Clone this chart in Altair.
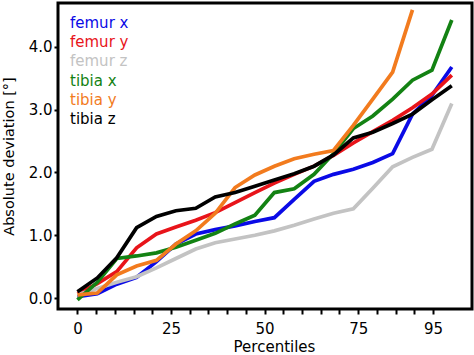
import altair as alt
import pandas as pd

percentiles = [0, 5.3, 10.5, 15.8, 21.1, 26.3, 31.6, 36.8, 42.1, 47.4,
               52.6, 57.9, 63.2, 68.4, 73.7, 78.9, 84.2, 89.5, 94.7, 100]

femur_x = [0.02, 0.07, 0.22, 0.33, 0.58, 0.86, 1.02, 1.09, 1.15, 1.22,
           1.28, 1.57, 1.86, 1.97, 2.05, 2.16, 2.30, 2.93, 3.23, 3.68]
femur_y = [0.07, 0.23, 0.42, 0.80, 1.02, 1.13, 1.24, 1.36, 1.52, 1.68,
           1.83, 1.97, 2.10, 2.27, 2.47, 2.65, 2.83, 3.03, 3.25, 3.55]
femur_z = [0.05, 0.15, 0.25, 0.34, 0.48, 0.63, 0.78, 0.88, 0.94, 1.00,
           1.07, 1.16, 1.26, 1.35, 1.42, 1.75, 2.09, 2.24, 2.37, 3.10]
tibia_x = [-0.03, 0.25, 0.63, 0.67, 0.72, 0.81, 0.92, 1.03, 1.18, 1.32,
           1.68, 1.74, 1.97, 2.30, 2.70, 2.90, 3.17, 3.47, 3.63, 4.43]
tibia_y = [0.05, 0.08, 0.37, 0.51, 0.60, 0.86, 1.07, 1.35, 1.76, 1.96,
           2.10, 2.22, 2.29, 2.35, 2.75, 3.17, 3.60, 4.59]
tibia_z = [0.10, 0.32, 0.64, 1.12, 1.30, 1.39, 1.43, 1.61, 1.68, 1.78,
           1.88, 1.98, 2.10, 2.28, 2.55, 2.64, 2.78, 2.93, 3.16, 3.38]

series_names = ["femur x", "femur y", "femur z", "tibia x", "tibia y", "tibia z"]
series_values = [femur_x, femur_y, femur_z, tibia_x, tibia_y, tibia_z]
series_colors = ["#0a0ae6", "#e8141a", "#c3c3c3", "#138213", "#f27b1e", "#000000"]

tick_values = list(range(0, 100, 5))
tick_labels = [0, 25, 50, 75, 95]
y_ticks = [0, 1, 2, 3, 4]

rows = []
for order, (name, vals) in enumerate(zip(series_names, series_values)):
    for p, v in zip(percentiles, vals):
        rows.append({"series": name, "pct": p, "val": v, "order": order})
df = pd.DataFrame(rows)
legend_df = pd.DataFrame({"series": series_names})

FONT = "DejaVu Sans"
color_scale = alt.Scale(domain=series_names, range=series_colors)

lines = alt.Chart(df).mark_line(strokeWidth=3.7, clip=True).encode(
    x=alt.X("pct:Q",
            scale=alt.Scale(domain=[-5.2, 105.4], nice=False, zero=False),
            axis=alt.Axis(values=tick_values, title="Percentiles",
                          labelExpr="indexof([" + ",".join(str(t) for t in tick_labels) + "], datum.value) >= 0 ? datum.label : ''",
                          labelFont=FONT, labelFontSize=15, labelColor="#000",
                          titleFont=FONT, titleFontSize=15, titleFontWeight="normal",
                          titleColor="#000", titleX=216, titleY=30,
                          domain=False, grid=False, tickColor="#000",
                          tickWidth=2, tickSize=5, labelPadding=7)),
    y=alt.Y("val:Q",
            scale=alt.Scale(domain=[-0.175, 4.70], nice=False, zero=False),
            axis=alt.Axis(values=y_ticks, format=".1f", title="Absolute deviation [°]",
                          labelFont=FONT, labelFontSize=15, labelColor="#000",
                          titleFont=FONT, titleFontSize=14.5, titleFontWeight="normal",
                          titleColor="#000", titlePadding=12,
                          domain=False, grid=False, tickColor="#000",
                          tickWidth=2, tickSize=4, labelPadding=2)),
    color=alt.Color("series:N", scale=color_scale, legend=None),
    detail="series:N",
    order=alt.Order("order:Q"),
)

legend_text = alt.Chart(legend_df).mark_text(
    align="left", baseline="middle", font=FONT, fontSize=15
).encode(
    x=alt.value(12),
    y=alt.Y("series:N", axis=None,
            scale=alt.Scale(type="point", domain=series_names, range=[19.7, 116.3], padding=0)),
    color=alt.Color("series:N", scale=color_scale, legend=None),
    text="series:N",
)

chart = alt.layer(lines, legend_text).resolve_scale(y="independent").properties(
    width=414, height=306,
    background="white",
    autosize=alt.AutoSizeParams(type="none"),
    padding={"left": 58, "top": 3, "right": 2, "bottom": 46},
).configure_view(stroke="#000", strokeWidth=3)

chart.save("out.html", embed_options={"renderer": "svg", "actions": False})
